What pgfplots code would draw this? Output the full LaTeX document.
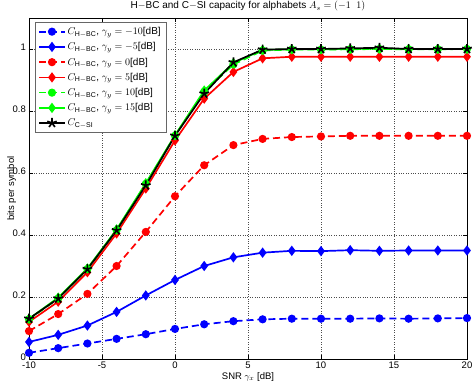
\documentclass[border=0pt]{standalone}
\usepackage{pgfplots}
\pgfplotsset{compat=1.18}
\usetikzlibrary{calc}
\usepackage{fontspec}
\setmainfont{Liberation Sans}
\begin{document}
\begin{tikzpicture}
\begin{axis}[
  scale only axis,
  width=438pt, height=341pt,
  xmin=-10, xmax=20, ymin=0, ymax=1.1,
  xtick={-10,-5,...,20}, ytick={0,0.2,...,1},
  yticklabels={0,0.2,0.4,0.6,0.8,1},
  /pgf/number format/assume math mode=true,
  grid=major, major grid style={dotted, black!70},
  tick align=inside, tick style={black},
  ticklabel style={font=\fontsize{9.5}{10}\selectfont},
  xticklabel style={yshift=-1.5pt, inner sep=1.5pt},
  yticklabel style={yshift=1.5pt, inner sep=1pt, xshift=-2pt},
  xlabel={SNR $\gamma_x$ [dB]}, ylabel={bits per symbol},
  label style={font=\fontsize{9.5}{10}\selectfont},
  xlabel style={yshift=-0.5pt, inner sep=1pt}, ylabel style={yshift=-8pt},
  title={H$-$BC and C$-$SI capacity for alphabets $A_s = (-1\ \ 1)$},
  title style={font=\fontsize{10}{11}\selectfont, yshift=-3pt},
  legend style={font=\fontsize{10}{12}\selectfont, draw=black!60, fill=white, row sep=2.5pt, at={(0.014,0.988)}, anchor=north west, inner sep=3pt},
  legend cell align=left,
  legend image code/.code={\draw[mark repeat=2,mark phase=2,#1] plot coordinates {(0cm,0cm)(0.45cm,0cm)(0.9cm,0cm)};},
  every axis plot/.append style={line width=1.7pt},
]
\addplot[blue, dash pattern=on 7pt off 4pt, mark=*, mark size=3.2pt, mark options={solid}] coordinates {(-10,0.02)(-8,0.035)(-6,0.05)(-4,0.065)(-2,0.08)(0,0.097)(2,0.112)(4,0.122)(6,0.128)(8,0.13)(10,0.13)(12,0.13)(14,0.131)(16,0.13)(18,0.131)(20,0.132)};
\addlegendentry{$C_{\mathrm{H-BC}}$, $\gamma_y = -10$[dB]}
\addplot[blue, solid, mark=diamond*, mark size=3.8pt] coordinates {(-10,0.055)(-8,0.078)(-6,0.108)(-4,0.152)(-2,0.205)(0,0.255)(2,0.3)(4,0.328)(6,0.343)(8,0.349)(10,0.348)(12,0.351)(14,0.349)(16,0.35)(18,0.35)(20,0.35)};
\addlegendentry{$C_{\mathrm{H-BC}}$, $\gamma_y = -5$[dB]}
\addplot[red, dash pattern=on 7pt off 4pt, mark=*, mark size=3.2pt, mark options={solid}] coordinates {(-10,0.09)(-8,0.145)(-6,0.21)(-4,0.3)(-2,0.41)(0,0.525)(2,0.625)(4,0.69)(6,0.71)(8,0.716)(10,0.718)(12,0.72)(14,0.72)(16,0.72)(18,0.72)(20,0.72)};
\addlegendentry{$C_{\mathrm{H-BC}}$, $\gamma_y = 0$[dB]}
\addplot[red, solid, mark=diamond*, mark size=3.8pt] coordinates {(-10,0.12)(-8,0.185)(-6,0.28)(-4,0.405)(-2,0.55)(0,0.705)(2,0.84)(4,0.926)(6,0.97)(8,0.975)(10,0.975)(12,0.975)(14,0.975)(16,0.975)(18,0.975)(20,0.975)};
\addlegendentry{$C_{\mathrm{H-BC}}$, $\gamma_y = 5$[dB]}
\addplot[green, dash pattern=on 7pt off 4pt, mark=*, mark size=3.2pt, mark options={solid}] coordinates {(-10,0.128)(-8,0.195)(-6,0.29)(-4,0.415)(-2,0.565)(0,0.72)(2,0.862)(4,0.95)(6,0.995)(8,0.998)(10,0.998)(12,0.999)(14,1.0)(16,0.999)(18,0.999)(20,1.0)};
\addlegendentry{$C_{\mathrm{H-BC}}$, $\gamma_y = 10$[dB]}
\addplot[green, solid, mark=diamond*, mark size=3.8pt] coordinates {(-10,0.13)(-8,0.198)(-6,0.292)(-4,0.418)(-2,0.567)(0,0.722)(2,0.866)(4,0.955)(6,0.997)(8,0.999)(10,0.999)(12,1.0)(14,1.001)(16,1.0)(18,1.0)(20,1.0)};
\addlegendentry{$C_{\mathrm{H-BC}}$, $\gamma_y = 15$[dB]}
\addplot[black, solid, mark=star, mark size=5pt, mark options={line width=1.7pt}] coordinates {(-10,0.13)(-8,0.195)(-6,0.29)(-4,0.415)(-2,0.56)(0,0.72)(2,0.856)(4,0.957)(6,0.998)(8,1.0)(10,1.0)(12,1.002)(14,1.004)(16,1.0)(18,1.0)(20,1.0)};
\addlegendentry{$C_{\mathrm{C-SI}}$}
\end{axis}
\pgfresetboundingbox
\path ($(current axis.south west)+(-29pt,-30pt)$) rectangle ($(current axis.north east)+(7pt,18pt)$);
\end{tikzpicture}
\end{document}
